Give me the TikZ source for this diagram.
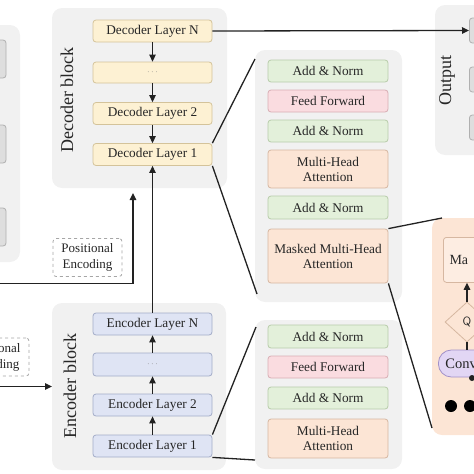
\documentclass[tikz,border=0pt]{standalone}
\usepackage{fontspec}
\setmainfont{Liberation Serif}
\usetikzlibrary{shapes.geometric,arrows.meta}
\definecolor{blockgray}{HTML}{F1F1F1}
\definecolor{decfill}{HTML}{FDF1D3}
\definecolor{decdraw}{HTML}{D4C39A}
\definecolor{encfill}{HTML}{DFE4F4}
\definecolor{encdraw}{HTML}{A3ACC8}
\definecolor{grnfill}{HTML}{E3F0DA}
\definecolor{grndraw}{HTML}{B8CCAA}
\definecolor{pnkfill}{HTML}{FADCE0}
\definecolor{pnkdraw}{HTML}{D8AEB4}
\definecolor{orgfill}{HTML}{FCE5D5}
\definecolor{orgdraw}{HTML}{D6B7A1}
\definecolor{smallgray}{HTML}{DEDEDE}
\definecolor{smallgraydraw}{HTML}{B0B0B0}
\definecolor{purfill}{HTML}{E2D6F4}
\definecolor{purdraw}{HTML}{A190C8}
\definecolor{txt}{HTML}{262626}
\definecolor{ln}{HTML}{222222}
\tikzset{
  blk/.style={fill=blockgray, draw=none, rounded corners=10pt},
  layerbox/.style={rounded corners=3pt, line width=0.8pt, minimum width=119pt,
    minimum height=22pt, inner sep=0pt, text=txt, align=center,
    font=\fontsize{13.3}{15}\selectfont},
  dec/.style={layerbox, fill=decfill, draw=decdraw},
  enc/.style={layerbox, fill=encfill, draw=encdraw},
  grn/.style={layerbox, minimum width=120pt, fill=grnfill, draw=grndraw},
  pnk/.style={layerbox, minimum width=120pt, fill=pnkfill, draw=pnkdraw},
  org/.style={layerbox, minimum width=120pt, fill=orgfill, draw=orgdraw},
  sgray/.style={fill=smallgray, draw=smallgraydraw, line width=0.8pt, rounded corners=3pt},
  pebox/.style={draw=gray!70, dashed, rounded corners=3pt, line width=0.8pt, fill=white,
    minimum width=69pt, minimum height=38pt, inner sep=0pt, align=center, text=txt,
    font=\fontsize{13}{16}\selectfont},
  blabel/.style={rotate=90, text=txt, font=\fontsize{18}{20}\selectfont},
  arr/.style={draw=ln, line width=1.3pt, -{Triangle[length=7pt,width=6.5pt]}},
  con/.style={draw=ln, line width=1.3pt}
}
\begin{document}
\begin{tikzpicture}[x=1pt,y=-1pt]
\useasboundingbox (0,0) rectangle (474,474);
\clip (0,0) rectangle (474,474);

% background blocks
\fill[blk] (-30,25) rectangle (20,262);
\fill[blk] (52,8) rectangle (227,188);
\fill[blk] (52,303) rectangle (226,470);
\fill[blk] (255,50) rectangle (402,302);
\fill[blk] (255,320) rectangle (402,469);
\fill[blk] (435,5) rectangle (500,155);
\fill[fill=orgfill, rounded corners=10pt] (432,218) rectangle (500,435);

% left block small boxes
\draw[sgray] (-20,40) rectangle (6,78);
\draw[sgray] (-20,125) rectangle (6,163);
\draw[sgray] (-20,208) rectangle (6,246);

% output small boxes
\node[sgray, minimum width=31pt, minimum height=25pt, inner sep=0pt, anchor=west] (out1) at (469,30.5) {};
\node[sgray, minimum width=31pt, minimum height=25pt, inner sep=0pt, anchor=west] (out2) at (469,79.5) {};
\node[sgray, minimum width=31pt, minimum height=25pt, inner sep=0pt, anchor=west] (out3) at (469,127.5) {};

% block labels
\node[blabel] (declab) at (67,100) {Decoder block};
\node[blabel] (enclab) at (70,386) {Encoder block};
\node[blabel] (outlab) at (447,80) {Output};

% decoder layers
\node[dec] (decN) at (152.5,31) {Decoder Layer N};
\node[dec, minimum height=21pt] (decD) at (152.5,72.5) {\textcolor{gray}{\small$\cdots$}};
\node[dec] (dec2) at (152.5,113.5) {Decoder Layer 2};
\node[dec] (dec1) at (152.5,154.5) {Decoder Layer 1};

% encoder layers
\node[enc] (encN) at (152.5,324) {Encoder Layer N};
\node[enc, minimum height=23pt] (encD) at (152.5,364.5) {\textcolor{gray}{\small$\cdots$}};
\node[enc] (enc2) at (152.5,405) {Encoder Layer 2};
\node[enc] (enc1) at (152.5,446) {Encoder Layer 1};

% decoder detail
\node[grn] (dan1) at (328,71) {Add \& Norm};
\node[pnk] (dff) at (328,101) {Feed Forward};
\node[grn] (dan2) at (328,131) {Add \& Norm};
\node[org, minimum height=38pt] (dmha) at (328,169) {Multi-Head\\Attention};
\node[grn, minimum height=23pt] (dan3) at (328,207.5) {Add \& Norm};
\node[org, minimum height=54pt] (mmha) at (328,256) {Masked Multi-Head\\Attention};

% encoder detail
\node[grn, minimum height=23pt] (ean1) at (328,336.5) {Add \& Norm};
\node[pnk] (eff) at (328,367) {Feed Forward};
\node[grn] (ean2) at (328,398) {Add \& Norm};
\node[org, minimum height=39pt] (emha) at (328,438.5) {Multi-Head\\Attention};

% positional encodings
\node[pebox] (pe1) at (87.5,257.5) {Positional\\Encoding};
\node[pebox] (pe2) at (-5.5,357) {Positional\\Encoding};

% right orange block contents
\node[draw=orgdraw, fill=orgfill!70!white, rounded corners=3pt, line width=0.8pt,
  minimum width=70pt, minimum height=45pt, anchor=north west, inner sep=0pt] (ma) at (443,237) {};
\node[anchor=west, text=txt, font=\fontsize{14}{16}\selectfont] (matext) at (446,259.5) {Ma};
\node[diamond, draw=orgdraw, fill=orgfill, line width=0.8pt, minimum width=44pt,
  minimum height=40pt, inner sep=0pt, text=txt, font=\sffamily\fontsize{12}{14}\selectfont] (q) at (467,322) {Q};
\node[draw=purdraw, fill=purfill, rounded corners=13pt, line width=0.8pt,
  minimum height=27pt, text width=66pt, inner xsep=7pt, inner ysep=0pt, align=left,
  anchor=west, text=txt, font=\fontsize{14.5}{16}\selectfont] (conv) at (438,363.5) {Conv};
\fill[ln] (472,378) circle (3pt);
\fill[black] (451,406) circle (6pt);
\fill[black] (470,406) circle (6pt);

% coordinates for zoom lines
\coordinate (dz1) at (255,59);
\coordinate (dz2) at (257,294);
\coordinate (ez1) at (256,327);
\coordinate (ez2) at (255,460);
\coordinate (oz1) at (442,218);
\coordinate (oz2) at (432,428);
\coordinate (pein1) at (-2,283.5);
\coordinate (pein1tip) at (133,193);
\coordinate (pein2) at (-2,386.5);

% connectors
\draw[arr] (decN.east) -- (out1.west);
\draw[arr] (decN.south) -- (decD.north);
\draw[arr] (decD.south) -- (dec2.north);
\draw[arr] (dec2.south) -- (dec1.north);
\draw[arr] (encN.north) -- (dec1.south);
\draw[arr] (enc1.north) -- (enc2.south);
\draw[arr] (enc2.north) -- (encD.south);
\draw[arr] (encD.north) -- (encN.south);
\draw[arr] (pein1) -| (pein1tip);
\draw[arr] (pein2) -- (52,386.5);
\draw[arr] (q.north) -- (ma.south -| q.north);
\draw[con] (q.south) -- (conv.north -| q.south);

\draw[con] (dec1.north east) -- (dz1);
\draw[con] (dec1.south east) -- (dz2);
\draw[con] (enc1.north east) -- (ez1);
\draw[con] (enc1.south east) -- (ez2);
\draw[con] (mmha.north east) -- (oz1);
\draw[con] (mmha.south east) -- (oz2);
\end{tikzpicture}
\end{document}
